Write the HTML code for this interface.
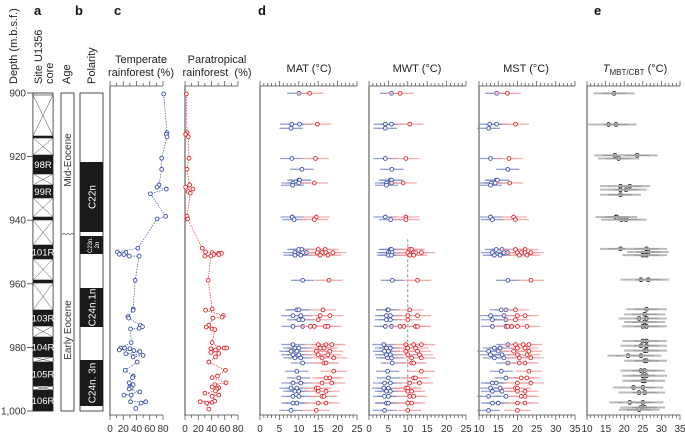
<!DOCTYPE html>
<html><head><meta charset="utf-8"><style>
body{margin:0;background:#fff;}
svg{display:block;font-family:"Liberation Sans",Arial,sans-serif;}
</style></head><body>
<svg id="fig" width="685" height="434" viewBox="0 0 685 434" xmlns="http://www.w3.org/2000/svg"></svg>
<script>
// ---- data ----
const depthTicks=[900,920,940,960,980,1000];
const tempDepth=[900.3,912.5,913,913.8,920.5,924,928.9,929.6,930.2,931.7,938.8,939.6,948.8,950,950.2,950.7,950.8,951.3,951.3,958.9,967.9,968.3,970.3,970.8,973.1,973.5,974,974.2,978.5,980.2,980.2,980.8,980.4,981,981.3,982,983,982.5,984.6,987.2,989,989.5,991.1,991.7,992.4,992.7,993.1,994,995,995,997.1,997.5,997.1,999.2];
const tempVal=[81,86,85,86,78,78,74,71,85,61,84,71,42,11,24,14,21,29,44,38,35,35,27,28,46,49,44,31,32,16,22,14,30,36,45,24,35,50,41,23,35,34,29,35,30,32,29,45,21,32,31,47,54,39];
const paraDepth=[900.3,912.5,913,913.8,920.5,924,928.9,929.6,930.2,931,931.5,938.8,939.6,948.8,950,950.2,950.4,950.4,950.8,950.8,951.3,951.3,958.9,967.9,968.3,970,970.5,970.8,973,973.6,974.2,974.4,978.5,980.2,980.2,980.2,980.4,980.8,981.6,981.9,983,984.6,987.2,989,989.5,991.1,991.7,992.4,992.7,993.1,993.7,994.4,995,995.4,997.1,997.5,997.3,996.9,999.4];
const paraVal=[2,3,1,5,6,3,7,1,12,5,8,3,4,26,31,41,51,55,43,51,30,39,35,41,31,58,56,42,36,32,41,45,41,51,59,63,39,46,39,51,46,36,61,49,41,62,45,41,51,48,46,30,51,41,23,33,41,45,36];
const bDepth=[900.1,909.8,909.8,911.1,920.6,924,927.4,927.4,928.3,928.3,929,939,939.8,949.2,949.2,950.2,950.2,950.2,951,951,958.9,968.2,968.2,970,970,971.3,971.3,973.4,973.4,979.1,980.2,980.2,981.2,981.2,982.3,982.3,983.3,983.3,984.9,987.5,989.6,991.2,991.2,992.8,992.8,993.8,993.8,995.4,995.4,997.5,997.5,999.8];
const matB=[10,8.2,10.2,8,8.2,10.8,10,10.2,8.5,10,8.4,8.3,8.8,10,10.8,9,11,12,9,10.5,11,9.5,10,8.5,10.5,10,11,8.5,11,8.5,9,10,8,9.5,8.5,10,9,10.5,11,9.5,10,8.5,10.5,8,9.5,9,10,8.5,10,8.5,9.5,8];
const mwtB=[5.8,4.2,5.8,4.2,4.2,5.9,5.5,5.8,4.5,5.8,4.5,4.2,5.6,5.5,5.8,5,5.5,6,5,5.8,6,4.8,5,4.5,5.5,4.5,5.5,4.2,5.8,3.8,4.5,5.5,4,5,4.5,5.5,4.8,5.8,6,4.8,5,4,5.5,3.8,5,4.5,5.5,4,5,4.5,5,4];
const mstB=[14.6,12.8,14.6,12.5,13,17.5,14.5,14.8,13.2,14.2,13,13,13.5,14.5,16,13.5,16.5,17.5,14,15.5,17.5,15.8,17,13,16.5,13.5,17,13.5,17,17.5,14,15.5,12.5,15,13,16,14,16.5,17.5,15.8,17,13.5,14.5,13,15.5,13.5,16,12.5,17,13.5,15,12.5];
const rDepth=[900.1,909.8,920.6,928.3,939,939.8,949.2,949.2,950.2,950.2,950.2,950.2,951,951,958.9,968.2,970,970,971.3,973.4,973.4,973.4,973.4,979.1,979.1,979.1,980.2,980.2,981.2,981.2,982.3,982.3,983.3,983.3,984.9,984.9,987.5,989.6,989.6,991.2,991.2,992.8,992.8,993.8,993.8,995.4,995.4,997.5,997.5,999.8];
const matR=[12.8,14.8,14.3,14,14.5,14,16.8,15,14.8,16,17,18.8,15.5,17.5,17.8,16.2,18,15.5,15,13,14,16.8,17.5,15,17,18.5,15.5,16.5,14.5,18,15,17.5,16,19,16.5,17,19,17,18,16,18.5,14.5,15,15,17,16,16.5,15,17,14.5];
const mwtR=[8,10.5,9.5,8.8,9.5,9.5,10.5,11,10,11.5,12,13.5,10.5,11.5,12.5,10.5,12.5,10,10,8,9,12,12.5,9.5,11.5,13.5,10,12,9.5,12.5,10,13,11,13.5,11,11.5,13.5,11.5,12,10.5,13,9.5,10,10,11,10.5,11.5,10,11,10];
const mstR=[17.4,19.5,17.8,18,19,19.5,22,19.5,20,21,22,23.5,20.5,22.5,23.5,19.5,22,20,19.5,17.5,18.5,20,22.5,19.5,21.5,23,20,22,19,23,20,22.5,20.5,23.5,20.5,22,23,21,22.5,20,23.5,19.5,20,20,22,21,22,20,22,20];
const tDepth=[900.1,909.9,909.9,919.6,919.6,920.6,929.3,929.3,930.4,930.4,932,939,939,939.8,939.8,949,949,950,950,951,951,958.7,958.7,968,969.6,970.9,970.9,972,973.4,973.4,978,978,979.5,979.5,981,981,982.6,982.6,984.2,984.2,987.3,987.3,988.9,988.9,990.5,990.5,992.6,992.6,994.2,994.2,997.3,997.3,998.9,998.9,999.6];
const tVal=[17.3,15.8,17.8,17.5,23.5,18.5,19,21.5,19,20.5,19,17.8,18,19.3,20.5,19,26,26.3,26.5,25,26,24.5,26.5,26,25.5,24,26,25.5,25,26,25,26,24.5,26,25.5,26,21,24.5,25.5,26,24.5,25.5,26,25,25.5,25,22.5,25,24,25.5,21.5,25,24.5,25.5,24];
const errB=3,errR=3.5,errT=5.5;

// ---- helpers ----
const NS="http://www.w3.org/2000/svg";
const svg=document.getElementById('fig');
function mk(tag,attrs,parent){const e=document.createElementNS(NS,tag);for(const k in attrs)e.setAttribute(k,attrs[k]);(parent||svg).appendChild(e);return e;}
function txt(s,attrs,parent){const e=mk('text',attrs,parent);e.textContent=s;return e;}
const Y0=93,Y1=411,TOP=86,BOT=415;
function dy(d){return Y0+(d-900)*(Y1-Y0)/100;}

// depth axis
const dax=mk('g',{});


depthTicks.forEach(d=>{
  const t=txt(d===1000?'1,000':String(d),{x:26,y:dy(d)+3.5,'font-size':10,'text-anchor':'end',fill:'#333'},dax);
  
  
  mk('line',{x1:27,x2:33,y1:dy(d),y2:dy(d),stroke:'#333','stroke-width':0.8},dax);
});

// headers
function vtext(s,x,y,name){const t=txt(s,{x:0,y:0,'font-size':11,fill:'#222',transform:`translate(${x},${y}) rotate(-90)`});}
vtext('Depth (m.b.s.f.)',17,84,'depth-axis-title');
vtext('Site  U1356',42,84,'site-title');
vtext('core',53,84,'core-title');
vtext('Age',70,84,'age-title');
vtext('Polarity',95,84,'polarity-title');
[['a',34],['b',75],['c',114],['d',258],['e',594]].forEach(([l,x])=>{const t=txt(l,{x:x,y:15,'font-size':13,'font-weight':'bold',fill:'#111'});});

// core column
const cores=[[93,95,'w'],[95,136,'x'],[136,138,'b','97R'],[138,155,'x'],[155,174,'b','98R'],[174,185,'x'],[185,198,'b','99R'],[198,217,'x'],[217,220,'b'],[220,245,'x'],[245,259,'b','101R'],[259,280,'x'],[280,283,'b'],[283,310,'x'],[310,326,'b','103R'],[326,337,'x'],[337,357,'b','104R'],[357,362,'x'],[362,386,'b','105R'],[386,390,'x'],[390,411,'b','106R']];
const cg=mk('g',{});
mk('rect',{x:33,y:93,width:20,height:318,fill:'#fff',stroke:'#222','stroke-width':0.8},cg);
cores.forEach(c=>{
  const [a,b,k,l]=c;
  if(k==='b'){mk('rect',{x:33,y:a,width:20,height:b-a,fill:'#1a1a1a'},cg);
    if(l&&b-a>8){const t=txt(l,{x:43,y:(a+b)/2+3.5,'font-size':9.5,fill:'#fff','text-anchor':'middle'},cg);}}
  else if(k==='x'){mk('rect',{x:33,y:a,width:20,height:b-a,fill:'#fff',stroke:'#222','stroke-width':0.6},cg);
    mk('path',{d:`M33 ${a}L53 ${b}M53 ${a}L33 ${b}`,stroke:'#444','stroke-width':0.5,fill:'none'},cg);}
});
// age column
const ag=mk('g',{});
mk('rect',{x:61,y:93,width:13,height:318,fill:'#fff',stroke:'#222','stroke-width':0.8},ag);
mk('path',{d:'M62 235 l2 -2 l2 2 l2 -2 l2 2 l2 -2 l2 2',stroke:'#444','stroke-width':0.6,fill:'none'},ag);
txt('Mid-Eocene',{x:0,y:0,'font-size':10,fill:'#333','text-anchor':'middle',transform:'translate(71,160) rotate(-90)'},ag);
txt('Early Eocene',{x:0,y:0,'font-size':10,fill:'#333','text-anchor':'middle',transform:'translate(71,330) rotate(-90)'},ag);
// polarity column
const pg=mk('g',{});
mk('rect',{x:80,y:93,width:23,height:318,fill:'#fff',stroke:'#222','stroke-width':0.8},pg);
[[162,232,'C22n',10],[236,254,'C23n.\n2n',6],[288,327,'C24n.1n',10],[360,406,'C24n. 3n',10]].forEach(([a,b,l,fs])=>{
  mk('rect',{x:80,y:a,width:23,height:b-a,fill:'#1a1a1a'},pg);
  const parts=l.split('\n');
  parts.forEach((p,i)=>txt(p,{x:0,y:0,'font-size':fs,fill:'#fff','text-anchor':'middle',transform:`translate(${92+(i-(parts.length-1)/2)*7+3.5},${(a+b)/2}) rotate(-90)`},pg));
});

// panels
function panel(name,px0,px1,v0,v1,major,minor,labels,titleLines,tx){
  const g=mk('g',{});
  const sx=v=>px0+(v-v0)*(px1-px0)/(v1-v0);
  mk('line',{x1:px0,x2:px0,y1:TOP,y2:BOT+1,stroke:'#444','stroke-width':1},g);
  const end=sx(v1);
  [TOP,BOT].forEach((yy,k)=>{
    mk('line',{x1:px0,x2:end,y1:yy,y2:yy,stroke:'#444','stroke-width':0.8},g);
    for(let v=v0;v<=v1+1e-6;v+=minor){const isM=Math.abs((v-v0)/major-Math.round((v-v0)/major))<1e-6;const L=isM?5:3;
      mk('line',{x1:sx(v),x2:sx(v),y1:yy,y2:k?yy+L:yy-L,stroke:'#444','stroke-width':0.7},g);}
  });
  labels.forEach(v=>{const t=txt(String(v),{x:sx(v),y:432,'font-size':10,'text-anchor':'middle',fill:'#333'},g);});
  titleLines.forEach((l,i)=>{const t=txt('',{x:tx,y:titleLines.length>1?63+i*13:72,'font-size':11,'text-anchor':'middle',fill:'#222'},g);t.innerHTML=l;});
  return {g,sx};
}
function series(p,depths,vals,color,name){
  const pts=depths.map((d,i)=>[p.sx(vals[i]),dy(d)]);
  const order=pts.map((q,i)=>i).sort((a,b)=>depths[a]-depths[b]);
  const l=mk('polyline',{points:order.map(i=>pts[i].join(',')).join(' '),fill:'none',stroke:color,'stroke-width':0.7,'stroke-dasharray':'1.5,1.2'},p.g);
  
  pts.forEach(q=>{const c=mk('circle',{cx:q[0],cy:q[1],r:1.9,fill:'#fff',stroke:color,'stroke-width':0.9},p.g);});
}
function errSeries(p,depths,vals,err,color,light,name){
  depths.forEach((d,i)=>{const y=dy(d);
    mk('line',{x1:p.sx(vals[i]-err),x2:p.sx(vals[i]+err),y1:y,y2:y,stroke:light,'stroke-width':1.3,opacity:0.8},p.g);});
  depths.forEach((d,i)=>{const c=mk('circle',{cx:p.sx(vals[i]),cy:dy(d),r:1.9,fill:'#fff',stroke:color,'stroke-width':0.9},p.g);});
}
const pTemp=panel('temperate-panel',110,163,0,80,20,10,[0,20,40,60,80],['Temperate','rainforest (%)'],141);
series(pTemp,tempDepth,tempVal,'#3a4fa8','temperate');
const pPara=panel('paratropical-panel',185,238,0,80,20,10,[0,20,40,60,80],['Paratropical','rainforest&#160;&#160;(%)'],217);
series(pPara,paraDepth,paraVal,'#e0252b','paratropical');
const pMAT=panel('mat-panel',260,357,0,25,5,1,[0,5,10,15,20,25],['MAT (°C)'],309);
errSeries(pMAT,bDepth,matB,errB,'#3a4fa8','#7b88c8','mat-temperate');
errSeries(pMAT,rDepth,matR,errR,'#e0252b','#f19a9a','mat-paratropical');
const pMWT=panel('mwt-panel',369,466,0,25,5,1,[0,5,10,15,20,25],['MWT (°C)'],417);
mk('line',{x1:pMWT.sx(10),x2:pMWT.sx(10),y1:dy(946),y2:BOT,stroke:'#777','stroke-width':0.8,'stroke-dasharray':'3,2'},pMWT.g);
errSeries(pMWT,bDepth,mwtB,errB,'#3a4fa8','#7b88c8','mwt-temperate');
errSeries(pMWT,rDepth,mwtR,errR,'#e0252b','#f19a9a','mwt-paratropical');
const pMST=panel('mst-panel',479,575,10,35,5,1,[10,15,20,25,30,35],['MST (°C)'],526);
errSeries(pMST,bDepth,mstB,errB,'#3a4fa8','#7b88c8','mst-temperate');
errSeries(pMST,rDepth,mstR,errR,'#e0252b','#f19a9a','mst-paratropical');
const pT=panel('tmbt-panel',587,680,10,35,5,1,[10,15,20,25,30,35],['<tspan font-style="italic">T</tspan><tspan font-size="8" dy="3">MBT/CBT</tspan><tspan dy="-3"> (°C)</tspan>'],635);
tDepth.forEach((d,i)=>{const y=dy(d);mk('line',{x1:pT.sx(tVal[i]-errT),x2:pT.sx(tVal[i]+errT),y1:y,y2:y,stroke:'#bbb','stroke-width':2});
  mk('line',{x1:pT.sx(tVal[i]-errT*0.6),x2:pT.sx(tVal[i]+errT*0.6),y1:y,y2:y,stroke:'#999','stroke-width':1.2});});
errSeries(pT,tDepth,tVal,0,'#222','#999','tmbt');
</script>
</body></html>
